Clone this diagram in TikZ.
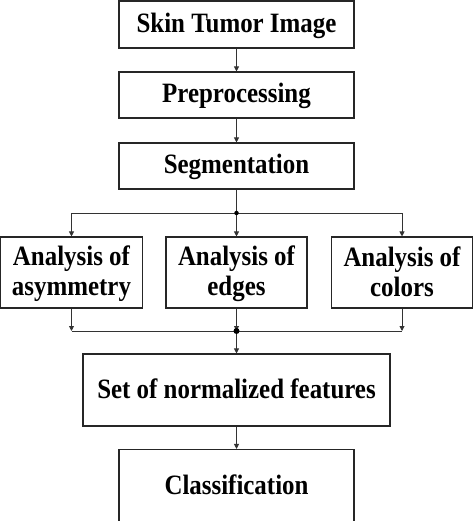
\documentclass[tikz,border=0pt]{standalone}
\usepackage{fontspec}
\setmainfont{Liberation Serif}
\newfontfamily\boxfont[FakeStretch=0.89]{Liberation Serif}
\newcommand\bstrut{\rule[-5pt]{0pt}{27pt}}
\usetikzlibrary{arrows.meta}
\begin{document}
\begin{tikzpicture}[x=1pt,y=1pt,
  box/.style={draw=black!85,line width=1.1pt,fill=white,inner sep=0pt,align=center,
    font=\boxfont\fontsize{28}{30}\selectfont\bfseries},
  conn/.style={draw=black!80,line width=0.9pt},
  arr/.style={conn,-{Triangle[width=5pt,length=5pt]}},
  dot/.style={fill=black,circle,inner sep=0pt,minimum size=4.5pt}]
\useasboundingbox (0,0) rectangle (474,-521);
\node[box,minimum width=235,minimum height=47] (a) at (236.5,-24.5) {\bstrut Skin Tumor Image};
\node[box,minimum width=235,minimum height=46] (b) at (236.5,-95) {\bstrut Preprocessing};
\node[box,minimum width=235,minimum height=46] (c) at (236.5,-166) {\bstrut Segmentation};
\node[box,minimum width=142,minimum height=71] (l) at (71.5,-272.5) {\bstrut Analysis of\\\bstrut asymmetry};
\node[box,minimum width=141,minimum height=71] (m) at (236.5,-272.5) {\bstrut Analysis of\\\bstrut edges};
\node[box,minimum width=141,minimum height=71] (r) at (402,-272.5) {\bstrut Analysis of\\\bstrut colors};
\node[box,minimum width=307,minimum height=72] (s) at (236.5,-390) {\bstrut Set of normalized features};
\node[box,minimum width=235,minimum height=72] (k) at (236.5,-485.5) {\bstrut Classification};
\coordinate (j1) at (236.5,-213);
\coordinate (j2) at (236.5,-331);
\draw[arr] (a) -- (b);
\draw[arr] (b) -- (c);
\draw[conn] (c) -- (j1);
\draw[arr] (j1) -| (l.north);
\draw[arr] (j1) -- (m.north);
\draw[arr] (j1) -| (r.north);
\draw[arr] (l.south) -- (l.south |- j2);
\draw[arr] (m.south) -- (j2);
\draw[arr] (r.south) -- (r.south |- j2);
\draw[conn] (l.south |- j2) -- (r.south |- j2);
\draw[arr] (j2) -- (s.north);
\draw[arr] (s) -- (k);
\node[dot] (d1) at (j1) {};
\node[dot,minimum size=6pt] (d2) at (j2) {};
\end{tikzpicture}
\end{document}
